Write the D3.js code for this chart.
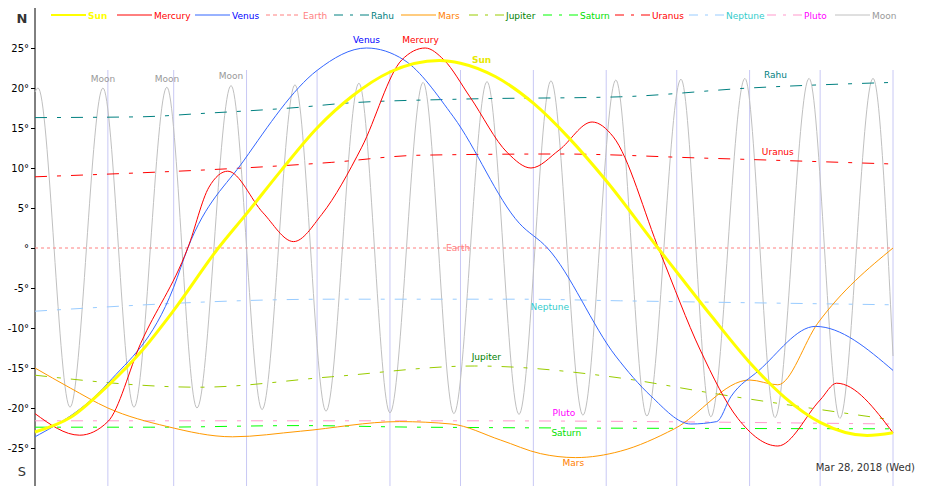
<!DOCTYPE html>
<html><head><meta charset="utf-8">
<script src="https://cdn.jsdelivr.net/npm/d3@7"></script>
<style>body{margin:0;background:#fff}text{font-family:"DejaVu Sans",Verdana,sans-serif}</style>
</head><body><svg id="chart" width="926" height="486"></svg>
<script>
// declinations in degrees, [day of year 2018, value]
var sun = [[0,-23],[15,-21.2],[31,-17.2],[45,-13],[59,-7.8],[78,0],[90,4.3],[105,9.8],[120,15],[135,19],[151,22],[172,23.44],[181,23.1],[196,21.4],[212,18.1],[227,13.8],[243,8.4],[265,0],[273,-3],[288,-8.6],[304,-14.3],[319,-18.7],[334,-21.8],[354,-23.44],[365,-23.1]];
var mercury = [[0,-20.7],[19,-23.4],[31,-21.7],[45,-11.9],[65,0],[74,7.6],[82,9.6],[97,4.4],[110,0.8],[122,4.2],[139,12.6],[156,23.5],[166,25],[174,23.5],[185,18.9],[201,11.9],[211,10],[223,12.25],[237,15.75],[246,13.9],[266,-0.6],[283,-12.75],[299,-21.3],[316,-24.75],[334,-19],[341,-16.9],[365,-23.1]];
var venus = [[0,-23.6],[31,-16.9],[59,-4.9],[65,0],[89,11],[120,22.2],[141,25],[157,23.5],[178,16.4],[206,3.1],[218,0],[247,-13.5],[262,-18.5],[279,-22],[290,-21.7],[296,-18.6],[308,-15.3],[332,-9.8],[365,-15.3]];
var earth = [[0,0],[365,0]];
var rahu = [[0,16.3],[45,16.4],[70,16.8],[113,17.6],[132,18.1],[180,18.6],[249,18.9],[304,20],[365,20.7]];
var mars = [[0,-15],[15,-17.5],[31,-20],[56,-22.3],[84,-23.6],[113,-22.9],[155,-21.7],[177,-22],[198,-24],[215,-25.7],[230,-26.2],[249,-25.4],[272,-22.6],[304,-16.5],[316,-17.1],[333,-9.4],[365,0]];
var jupiter = [[0,-15.9],[70,-17.4],[126,-16.1],[187,-14.75],[249,-16.25],[287,-18.1],[365,-21.5]];
var saturn = [[0,-22.4],[49,-22.4],[113,-22.2],[164,-22.4],[365,-22.6]];
var uranus = [[0,8.9],[126,10.7],[164,11.6],[223,11.75],[283,11.25],[365,10.5]];
var neptune = [[0,-7.9],[126,-6.4],[206,-6.4],[249,-6.6],[365,-7.1]];
var pluto = [[0,-21.6],[180,-21.6],[365,-22]];
var moon = [[0,19.5],[1.3,20],[14.9,-19.9],[28.9,20],[42.1,-19.9],[56.1,20.1],[68.9,-20],[83.4,20.3],[96.6,-20.2],[110.6,20.4],[123.8,-20.4],[137.8,20.6],[151,-20.6],[165.1,20.7],[178.2,-20.7],[192.3,20.8],[205.9,-20.8],[219.5,20.9],[233.1,-20.9],[247.1,21],[260.3,-21],[274.8,21.1],[287.5,-21.1],[302,21.2],[314.8,-21.2],[329.3,21.2],[342.4,-21.3],[356.5,21.2],[365,-13.5]];
var monthStarts = [31,59,90,120,151,181,212,243,273,304,334,365];
var degTicks = [25,20,15,10,5,0,-5,-10,-15,-20,-25];

var series = [
  {name:"Sun", data:sun, stroke:"#ffff00", label:"#ffff00", w:3, dash:null},
  {name:"Mercury", data:mercury, stroke:"#ff0000", label:"#ff0000", w:1, dash:null},
  {name:"Venus", data:venus, stroke:"#3366ff", label:"#0000ff", w:1, dash:null},
  {name:"Earth", data:earth, stroke:"#ff8080", label:"#ff8080", w:1, dash:"3,3"},
  {name:"Rahu", data:rahu, stroke:"#008080", label:"#008080", w:1, dash:"12,10,4,10"},
  {name:"Mars", data:mars, stroke:"#ff9900", label:"#ff8000", w:1, dash:null},
  {name:"Jupiter", data:jupiter, stroke:"#99cc00", label:"#008000", w:1, dash:"12,10,4,10"},
  {name:"Saturn", data:saturn, stroke:"#00ff00", label:"#00e000", w:1, dash:"12,10,4,10"},
  {name:"Uranus", data:uranus, stroke:"#ff0000", label:"#ff0000", w:1, dash:"12,10,4,10"},
  {name:"Neptune", data:neptune, stroke:"#99ccff", label:"#33cccc", w:1, dash:"12,10,4,10"},
  {name:"Pluto", data:pluto, stroke:"#ff99cc", label:"#ff00ff", w:1, dash:"12,10,4,10"},
  {name:"Moon", data:moon, stroke:"#c0c0c0", label:"#999999", w:1, dash:null}
];
var legendX = [51,117,195,266,334,401,469,543,615,689,767,835];
var labels = [
  ["Moon",28.9,20.8],["Moon",56.1,20.8],["Moon",83.4,21.1],["Venus",141,25.6],["Mercury",164,25.6],
  ["Sun",190,23.1],["Rahu",315,21.2],["Uranus",316,11.6],["Earth",180,-0.4],["Neptune",219,-7.7],
  ["Jupiter",192,-14],["Pluto",225,-21],["Saturn",226,-23.5],["Mars",229,-27.2]
];

var svg = d3.select("#chart");
var x = d3.scaleLinear().domain([0,365]).range([35,893]);
var y = d3.scaleLinear().domain([25,-25]).range([48,448]);

// month grid
svg.append("g").selectAll("line").data(monthStarts).join("line")
  .attr("x1", d=>x(d)).attr("x2", d=>x(d)).attr("y1", 70).attr("y2", 486)
  .attr("stroke", "#c8c8f4").attr("stroke-width", 1);

// axis
var ax = svg.append("g").attr("transform","translate(35,0)")
  .call(d3.axisLeft(y).tickValues(degTicks).tickSize(4).tickFormat(d => d===0 ? "°" : d+"°"));
ax.select(".domain").attr("d","M0,8V486").attr("stroke","#000");
ax.selectAll("text").attr("font-size",10).attr("fill","#000").attr("x",-6);
svg.append("text").attr("x",22).attr("y",23).attr("text-anchor","middle").attr("font-size",13).attr("font-weight","bold").attr("fill","#333").text("N");
svg.append("text").attr("x",22).attr("y",476).attr("text-anchor","middle").attr("font-size",13).attr("fill","#333").text("S");

// curves (moon first so planets draw over it)
var line = d3.line().x(d=>x(d[0])).y(d=>y(d[1])).curve(d3.curveMonotoneX);
var order = [11,3,4,8,9,10,7,6,5,2,1,0];
order.forEach(function(i){
  var s = series[i];
  svg.append("path").datum(s.data).attr("d", line).attr("fill","none")
    .attr("stroke", s.stroke).attr("stroke-width", s.w).attr("stroke-dasharray", s.dash);
});

// legend
var lg = svg.append("g").selectAll("g").data(series).join("g")
  .attr("transform", (d,i)=>"translate("+legendX[i]+",15)");
lg.append("line").attr("x1",0).attr("x2",35).attr("stroke", d=>d.stroke)
  .attr("stroke-width", d=>d.w===3?2:1).attr("stroke-dasharray", d=>d.dash ? (d.name==="Earth"?"4,3":"9,7,3,7") : null);
lg.append("text").attr("x",37).attr("y",3.5).attr("font-size",9).attr("fill", d=>d.label)
  .attr("font-weight", d=>d.name==="Sun"?"bold":null).text(d=>d.name);

// in-plot labels
var colorOf = {}; series.forEach(s=>colorOf[s.name]=s.label);
svg.append("g").selectAll("text").data(labels).join("text")
  .attr("x", d=>x(d[1])).attr("y", d=>y(d[2])).attr("text-anchor","middle").attr("font-size",9)
  .attr("fill", d=>d[0]==="Sun"?"#e8e800":colorOf[d[0]]).attr("font-weight", d=>d[0]==="Sun"?"bold":null).text(d=>d[0]);

svg.append("text").attr("x",915).attr("y",471).attr("text-anchor","end").attr("font-size",10).attr("fill","#333").text("Mar 28, 2018 (Wed)");
</script></body></html>
